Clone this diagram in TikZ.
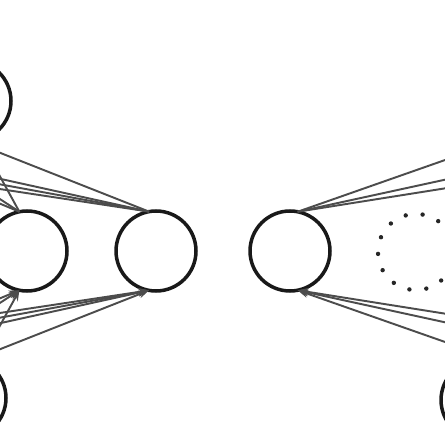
\documentclass[tikz,border=0pt]{standalone}
\usetikzlibrary{arrows.meta}
\begin{document}
\begin{tikzpicture}[x=0.02cm,y=-0.02cm,
  neuron/.style={circle,draw=black!90,line width=2pt,minimum size=1.6cm,inner sep=0pt,outer sep=0pt},
  link/.style={draw=black!70,line width=1.1pt},
  inlink/.style={link,-{Stealth[length=6pt,width=4.5pt]}},
  dotmark/.style={fill=black!85}]
\useasboundingbox (0,0) rectangle (445,445);
\clip (0,0) rectangle (445,445);
% neurons
\node[neuron] (TL) at (-29,101) {};
\node[neuron] (BL) at (-34,398) {};
\node[neuron] (BR) at (481,400) {};
\node[neuron] (A) at (27,251) {};
\node[neuron] (B) at (156,251) {};
\node[neuron] (C) at (290,251) {};
\coordinate (D) at (416,252);
% dotted neuron
\foreach \a in {0,...,13}{
  \fill[dotmark] (D) ++({-80-\a*360/14}:38) circle (2.2);
}
% off-picture sources, left
\coordinate (l1) at (-40,137);
\coordinate (l2) at (-40,170);
\coordinate (l3) at (-40,177);
\coordinate (l4) at (-40,183);
\coordinate (la1) at (-20,140);
\coordinate (la2) at (-40,173);
\coordinate (la3) at (-40,187);
\coordinate (m1) at (-40,365);
\coordinate (m2) at (-40,332);
\coordinate (m3) at (-40,325);
\coordinate (m4) at (-40,319);
\coordinate (ma1) at (-20,362);
\coordinate (ma2) at (-40,329);
\coordinate (ma3) at (-40,315);
% off-picture sources, right
\coordinate (r1) at (485,146);
\coordinate (r2) at (485,171);
\coordinate (r3) at (485,182);
\coordinate (s1) at (485,356);
\coordinate (s2) at (485,331);
\coordinate (s3) at (485,320);
% upper links
\foreach \s in {l1,l2,l3,l4} \draw[link] (\s) -- (B.100);
\foreach \s in {la1,la2,la3} \draw[link] (\s) -- (A.101);
\foreach \s in {r1,r2,r3} \draw[link] (\s) -- (C.79);
% lower links
\foreach \s in {m1,m2,m3,m4} \draw[inlink] (\s) -- (B.260);
\foreach \s in {ma1,ma2,ma3} \draw[inlink] (\s) -- (A.259);
\foreach \s in {s1,s2,s3} \draw[inlink] (\s) -- (C.281);
\end{tikzpicture}
\end{document}
